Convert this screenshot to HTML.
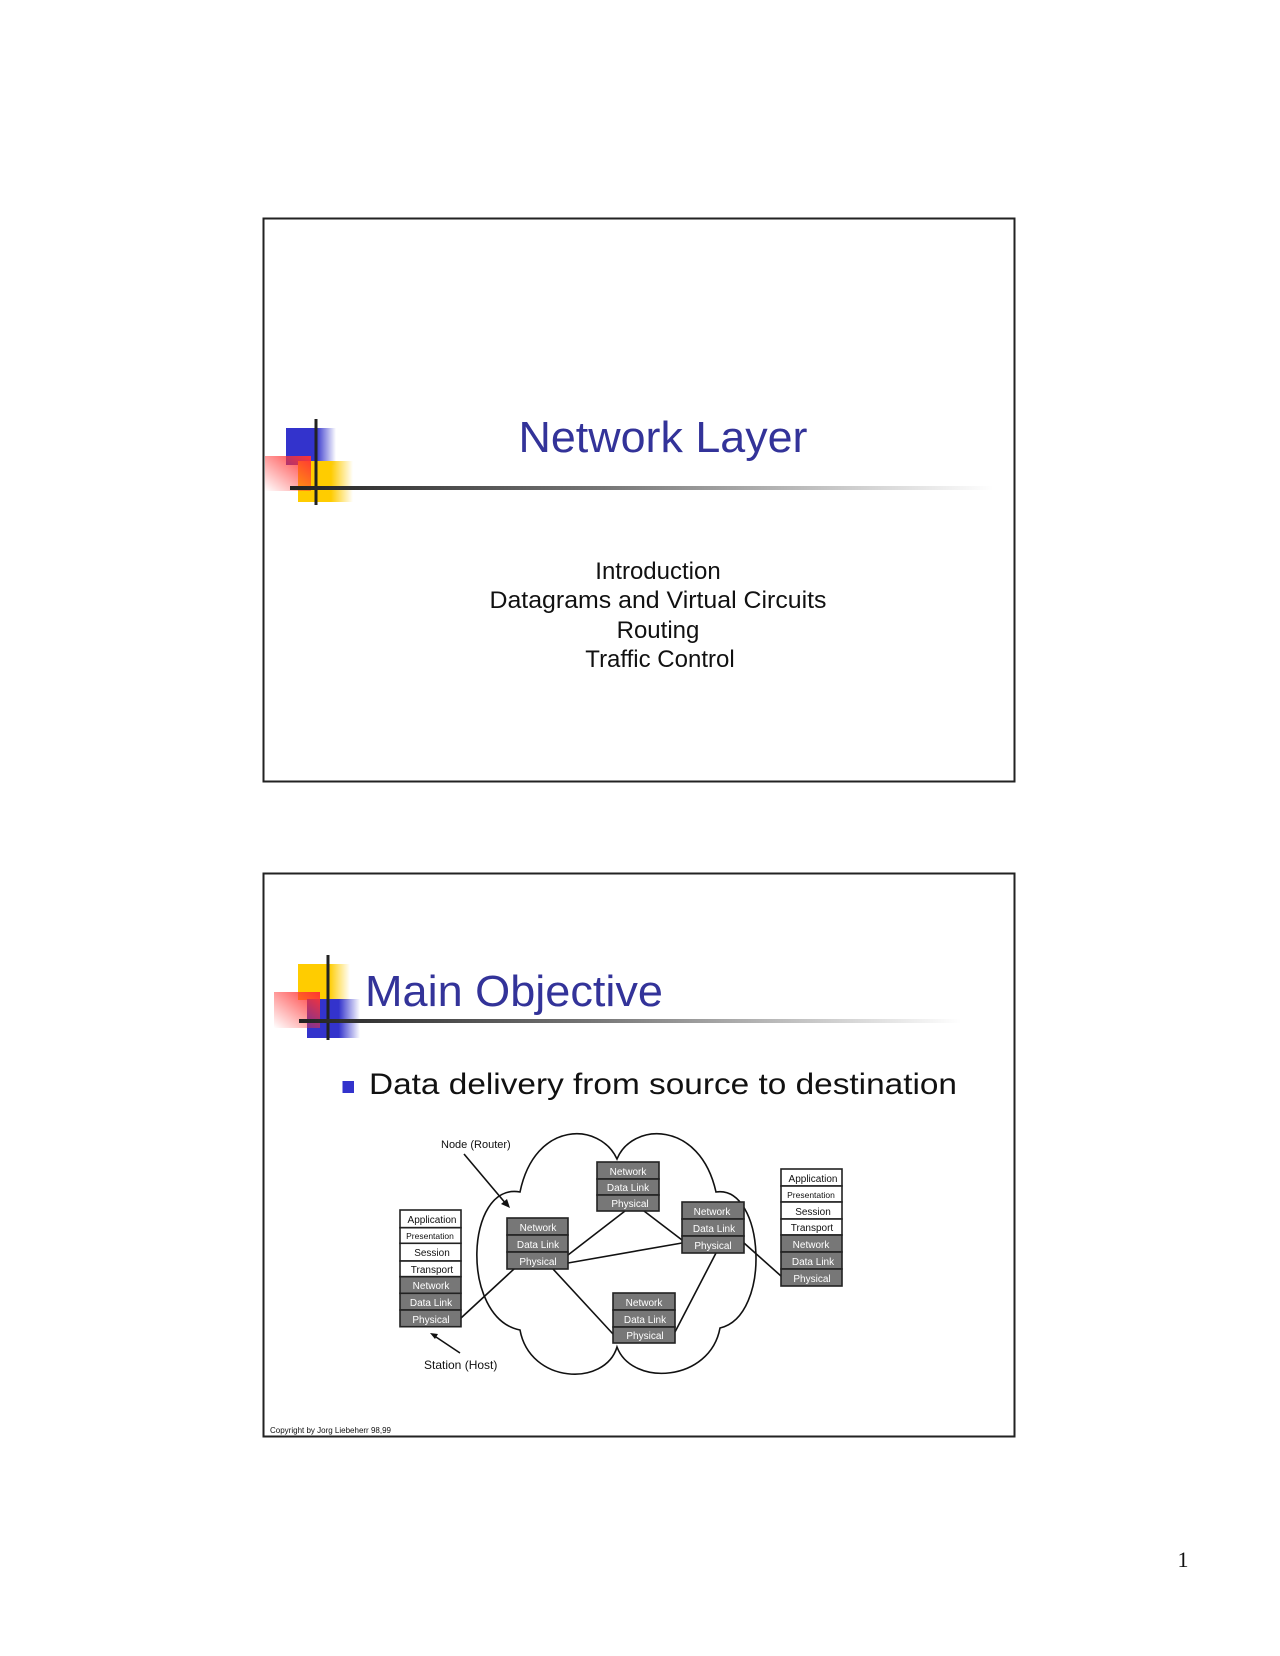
<!DOCTYPE html>
<html><head><meta charset="utf-8"><style>html,body{margin:0;padding:0;background:#fff}svg{display:block}</style></head>
<body>
<svg width="1280" height="1656" viewBox="0 0 1280 1656" xmlns="http://www.w3.org/2000/svg" font-family="Liberation Sans, Arial, sans-serif">
<defs>
<linearGradient id="hl" x1="0" x2="1" y1="0" y2="0"><stop offset="0" stop-color="#222"/><stop offset="0.45" stop-color="#777"/><stop offset="1" stop-color="#fff"/></linearGradient>
<linearGradient id="bl" x1="0" x2="1"><stop offset="0" stop-color="#3333cc"/><stop offset="0.6" stop-color="#3333cc"/><stop offset="1" stop-color="#3333cc" stop-opacity="0"/></linearGradient>
<linearGradient id="yl" x1="0" x2="1"><stop offset="0" stop-color="#ffcc00"/><stop offset="0.6" stop-color="#ffcc00"/><stop offset="1" stop-color="#ffcc00" stop-opacity="0"/></linearGradient>
<linearGradient id="rd" x1="1" y1="0" x2="0" y2="1"><stop offset="0" stop-color="#ff3333"/><stop offset="1" stop-color="#ff3333" stop-opacity="0"/></linearGradient>
</defs>

<!-- Slide 1 -->
<rect x="263.5" y="218.5" width="751" height="563" fill="none" stroke="#222" stroke-width="2"/>
<rect x="286" y="428" width="50" height="37" fill="url(#bl)"/>
<rect x="298" y="461" width="55" height="41" fill="url(#yl)"/>
<rect x="265" y="456" width="46" height="35" fill="url(#rd)"/>
<line x1="316" y1="419" x2="316" y2="505" stroke="#222" stroke-width="3"/>
<rect x="290" y="486" width="703" height="4" fill="url(#hl)"/>
<text x="663" y="452" font-size="44" fill="#333399" text-anchor="middle" textLength="289" lengthAdjust="spacingAndGlyphs">Network Layer</text>
<g font-size="24" fill="#111" text-anchor="middle">
<text x="658" y="579">Introduction</text>
<text x="658" y="608" textLength="337" lengthAdjust="spacingAndGlyphs">Datagrams and Virtual Circuits</text>
<text x="658" y="638">Routing</text>
<text x="660" y="667">Traffic Control</text>
</g>

<!-- Slide 2 -->
<rect x="263.5" y="873.5" width="751" height="563" fill="none" stroke="#222" stroke-width="2"/>
<rect x="298" y="964" width="52" height="36" fill="url(#yl)"/>
<rect x="307" y="999" width="53" height="39" fill="url(#bl)"/>
<rect x="274" y="992" width="46" height="36" fill="url(#rd)"/>
<line x1="328" y1="955" x2="328" y2="1040" stroke="#222" stroke-width="3"/>
<rect x="299" y="1019" width="662" height="4" fill="url(#hl)"/>
<text x="365" y="1006" font-size="44" fill="#333399" textLength="298" lengthAdjust="spacingAndGlyphs">Main Objective</text>
<rect x="342.5" y="1081" width="11.5" height="12" fill="#3333cc"/>
<text x="369" y="1094" font-size="30" fill="#111" textLength="588" lengthAdjust="spacingAndGlyphs">Data delivery from source to destination</text>

<!-- cloud -->
<path d="M617,1159 C600,1122 535,1120 520,1192 C465,1182 460,1318 520,1330 C530,1384 605,1387 617,1347 C632,1387 710,1382 720,1328 C772,1316 765,1185 716,1192 C700,1120 632,1122 617,1159 Z" fill="none" stroke="#111" stroke-width="1.6"/>

<g stroke="#111" stroke-width="1.6">
<line x1="461" y1="1318" x2="514" y2="1269"/>
<line x1="568" y1="1255" x2="625" y2="1211"/>
<line x1="644" y1="1211" x2="682" y2="1240"/>
<line x1="568" y1="1263" x2="682" y2="1243"/>
<line x1="553" y1="1269" x2="613" y2="1334"/>
<line x1="675" y1="1332" x2="716" y2="1253"/>
<line x1="744" y1="1243" x2="781" y2="1276"/>
<line x1="464" y1="1154" x2="507" y2="1205"/>
<line x1="460" y1="1353" x2="433" y2="1335"/>
</g>
<polygon points="510,1208 501,1204 507,1199" fill="#111"/>
<polygon points="430,1333 438,1334 435,1339" fill="#111"/>
<text x="441" y="1148" font-size="11" fill="#111">Node (Router)</text>
<text x="424" y="1369" font-size="12" fill="#111">Station (Host)</text>

<g font-size="10" text-anchor="middle" stroke-width="1.6" stroke="#222">
<!-- left host -->
<g>
<rect x="400" y="1210" width="61" height="17.7" fill="#fff"/><text x="432" y="1223" stroke="none" fill="#111">Application</text>
<rect x="400" y="1227.7" width="61" height="15.6" fill="#fff"/><text x="430" y="1239" stroke="none" fill="#111" font-size="8.5">Presentation</text>
<rect x="400" y="1243.3" width="61" height="17.7" fill="#fff"/><text x="432" y="1256" stroke="none" fill="#111">Session</text>
<rect x="400" y="1261" width="61" height="15.7" fill="#fff"/><text x="432" y="1273" stroke="none" fill="#111">Transport</text>
<rect x="400" y="1276.7" width="61" height="16.6" fill="#777"/><text x="431" y="1289" stroke="none" fill="#fff">Network</text>
<rect x="400" y="1293.3" width="61" height="16.7" fill="#777"/><text x="431" y="1306" stroke="none" fill="#fff">Data Link</text>
<rect x="400" y="1310" width="61" height="16.7" fill="#777"/><text x="431" y="1323" stroke="none" fill="#fff">Physical</text>
</g>
<!-- right host -->
<g>
<rect x="781" y="1169" width="61" height="17" fill="#fff"/><text x="813" y="1182" stroke="none" fill="#111">Application</text>
<rect x="781" y="1186" width="61" height="16" fill="#fff"/><text x="811" y="1198" stroke="none" fill="#111" font-size="8.5">Presentation</text>
<rect x="781" y="1202" width="61" height="17" fill="#fff"/><text x="813" y="1215" stroke="none" fill="#111">Session</text>
<rect x="781" y="1219" width="61" height="16" fill="#fff"/><text x="812" y="1231" stroke="none" fill="#111">Transport</text>
<rect x="781" y="1235" width="61" height="17" fill="#777"/><text x="811" y="1248" stroke="none" fill="#fff">Network</text>
<rect x="781" y="1252" width="61" height="17" fill="#777"/><text x="813" y="1265" stroke="none" fill="#fff">Data Link</text>
<rect x="781" y="1269" width="61" height="17" fill="#777"/><text x="812" y="1282" stroke="none" fill="#fff">Physical</text>
</g>
<!-- routers -->
<g>
<rect x="507" y="1218" width="61" height="17" fill="#777"/><text x="538" y="1231" stroke="none" fill="#fff">Network</text>
<rect x="507" y="1235" width="61" height="17" fill="#777"/><text x="538" y="1248" stroke="none" fill="#fff">Data Link</text>
<rect x="507" y="1252" width="61" height="17" fill="#777"/><text x="538" y="1265" stroke="none" fill="#fff">Physical</text>
</g>
<g>
<rect x="597" y="1162" width="62" height="17" fill="#777"/><text x="628" y="1175" stroke="none" fill="#fff">Network</text>
<rect x="597" y="1179" width="62" height="16" fill="#777"/><text x="628" y="1191" stroke="none" fill="#fff">Data Link</text>
<rect x="597" y="1195" width="62" height="16" fill="#777"/><text x="630" y="1207" stroke="none" fill="#fff">Physical</text>
</g>
<g>
<rect x="682" y="1202" width="62" height="17" fill="#777"/><text x="712" y="1215" stroke="none" fill="#fff">Network</text>
<rect x="682" y="1219" width="62" height="17" fill="#777"/><text x="714" y="1232" stroke="none" fill="#fff">Data Link</text>
<rect x="682" y="1236" width="62" height="17" fill="#777"/><text x="713" y="1249" stroke="none" fill="#fff">Physical</text>
</g>
<g>
<rect x="613" y="1293" width="62" height="17" fill="#777"/><text x="644" y="1306" stroke="none" fill="#fff">Network</text>
<rect x="613" y="1310" width="62" height="17" fill="#777"/><text x="645" y="1323" stroke="none" fill="#fff">Data Link</text>
<rect x="613" y="1327" width="62" height="16" fill="#777"/><text x="645" y="1339" stroke="none" fill="#fff">Physical</text>
</g>
</g>

<text x="270" y="1433" font-size="8" fill="#111">Copyright by Jorg Liebeherr 98,99</text>
<text x="1183" y="1567" font-size="22" fill="#111" font-family="Liberation Serif, serif" text-anchor="middle">1</text>
</svg>
</body></html>
